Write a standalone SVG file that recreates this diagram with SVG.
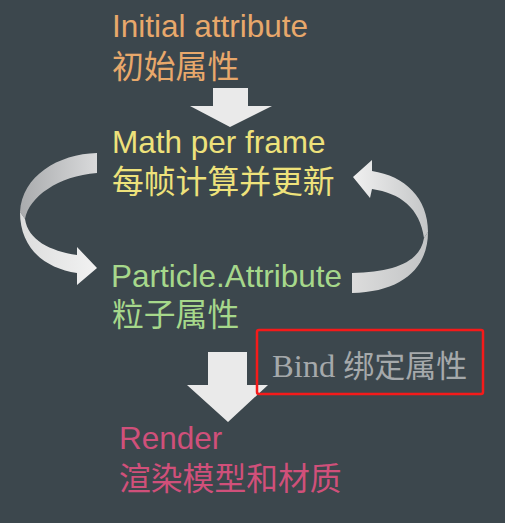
<svg xmlns="http://www.w3.org/2000/svg" width="505" height="523" viewBox="0 0 505 523">
<defs>
<style>
.lat{font-family:"Liberation Sans","Noto Sans CJK SC",Arial,sans-serif;font-size:31.5px}
.cjk{font-family:"Noto Sans CJK SC","Liberation Sans",sans-serif;font-size:31.8px}
.arrow{fill:#eaeaea}
</style>
<linearGradient id="gUp" x1="0" y1="0" x2="1" y2="0">
<stop offset="0" stop-color="#a9abad"/>
<stop offset="1" stop-color="#d9dadb"/>
</linearGradient>
<linearGradient id="gLow" x1="0" y1="0" x2="1" y2="0">
<stop offset="0" stop-color="#dcdddd"/>
<stop offset="1" stop-color="#f2f2f2"/>
</linearGradient>
<linearGradient id="gRUp" x1="0" y1="0" x2="1" y2="0">
<stop offset="0" stop-color="#f0f0f0"/>
<stop offset="1" stop-color="#c4c6c7"/>
</linearGradient>
<linearGradient id="gRLow" x1="0" y1="0" x2="1" y2="0">
<stop offset="0" stop-color="#dcdcdc"/>
<stop offset="1" stop-color="#c2c4c5"/>
</linearGradient>
</defs>
<rect width="505" height="523" fill="#3c474d"/>

<g id="connectors">
<path class="arrow" d="M213,88 H248 V106 H272 L230,127 L190,106 H213 Z"/>
<path class="arrow" d="M208,352 H247 V385 H268 L228,422 L187,385 H208 Z"/>
<g id="loop-left">
<path fill="url(#gUp)" d="M97,153 C58,154 22,176 20,212 L25,219 C29,197 58,176 97,173 Z"/>
<path fill="url(#gLow)" d="M20,212 C20,248 44,268 77,273 L77,285 L97,268 L77,247 L77,255 C50,251 28,240 25,219 Z"/>
</g>
<g id="loop-right">
<path fill="url(#gRUp)" d="M428,232 C428,198 405,176 372,171 L372,160 L353,177 L370,198 L372,189 C400,193 420,208 424,238 Z"/>
<path fill="url(#gRLow)" d="M424,238 C420,262 395,272 352,273 L352,293 C402,292 428,268 428,232 Z"/>
</g>
</g>

<g id="node-initial">
<text class="lat" x="112" y="37" fill="#e8a86b">Initial attribute</text>
<text class="cjk" x="112" y="78" fill="#e8a86b">初始属性</text>
</g>
<g id="node-math">
<text class="lat" x="112" y="153" fill="#eee27b">Math per frame</text>
<text class="cjk" x="112" y="193" fill="#eee27b">每帧计算并更新</text>
</g>
<g id="node-particle">
<text class="lat" x="111" y="287" fill="#a6d88b">Particle.Attribute</text>
<text class="cjk" x="112" y="326" fill="#a6d88b">粒子属性</text>
</g>
<g id="node-bind">
<rect x="257" y="330" width="226" height="64" rx="2" fill="none" stroke="#f51a1a" stroke-width="2.5"/>
<text x="272" y="377" fill="#a5a9ab" font-family="Liberation Serif,'Noto Sans CJK SC',serif" font-size="32.5">Bind <tspan font-family="'Noto Sans CJK SC',sans-serif" font-size="31">绑定属性</tspan></text>
</g>
<g id="node-render">
<text class="lat" x="119" y="449" fill="#d0507a">Render</text>
<text class="cjk" x="119" y="490" fill="#d0507a">渲染模型和材质</text>
</g>
</svg>
